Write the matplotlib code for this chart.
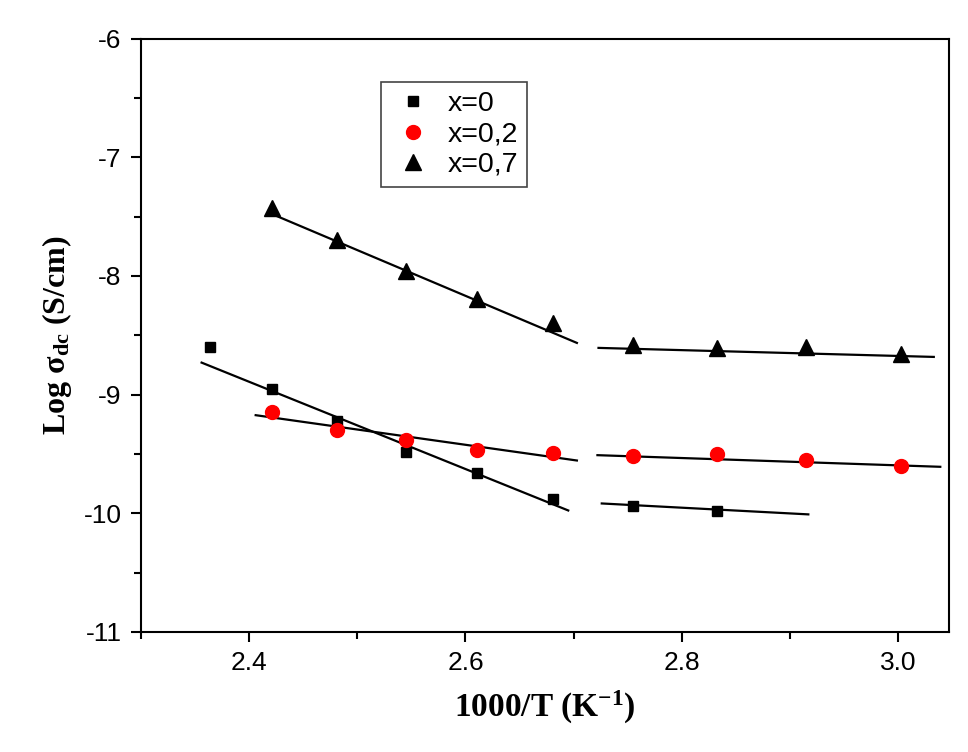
import matplotlib
matplotlib.use("Agg")
import matplotlib.pyplot as plt
from matplotlib.ticker import MultipleLocator, FormatStrFormatter

plt.rcParams["font.family"] = ["Liberation Sans", "DejaVu Sans"]
plt.rcParams["font.size"] = 17
plt.rcParams["mathtext.fontset"] = "custom"
plt.rcParams["mathtext.rm"] = "Liberation Serif"
plt.rcParams["mathtext.bf"] = "Liberation Serif:bold"
plt.rcParams["mathtext.it"] = "Liberation Serif:italic"

# ---- data (1000/T in K^-1, Log sigma_dc in S/cm) ----
x0 = [2.364, 2.421, 2.481, 2.545, 2.611, 2.681, 2.755, 2.833]
y0 = [-8.60, -8.95, -9.22, -9.48, -9.66, -9.88, -9.94, -9.98]

x2 = [2.421, 2.481, 2.545, 2.611, 2.681, 2.755, 2.833, 2.915, 3.003]
y2 = [-9.15, -9.30, -9.38, -9.47, -9.49, -9.52, -9.50, -9.55, -9.60]

x7 = [2.421, 2.481, 2.545, 2.611, 2.681, 2.755, 2.833, 2.915, 3.003]
y7 = [-7.43, -7.70, -7.955, -8.19, -8.40, -8.58, -8.61, -8.60, -8.66]

# linear-fit segments ([start x, end x], [start y, end y])
fit0_a = ([2.356, 2.695], [-8.73, -9.976])
fit0_b = ([2.726, 2.917], [-9.917, -10.009])
fit2_a = ([2.406, 2.703], [-9.173, -9.555])
fit2_b = ([2.722, 3.039], [-9.51, -9.608])
fit7_a = ([2.419, 2.703], [-7.47, -8.564])
fit7_b = ([2.723, 3.033], [-8.606, -8.682])

labels = ["x=0", "x=0,2", "x=0,7"]

fig = plt.figure(figsize=(9.68, 7.52), dpi=100)
ax = fig.add_axes([0.1457, 0.1596, 0.8346, 0.789])

for fx, fy in [fit0_a, fit0_b, fit2_a, fit2_b, fit7_a, fit7_b]:
    ax.plot(fx, fy, color="black", lw=1.6, zorder=2)

ax.plot(x0, y0, ls="none", marker="s", ms=7, color="black", label=labels[0], zorder=3)
ax.plot(x2, y2, ls="none", marker="o", ms=10, color="#ff0000", label=labels[1], zorder=3)
ax.plot(x7, y7, ls="none", marker="^", ms=11, color="black", label=labels[2], zorder=3)

ax.set_xlim(2.3, 3.047)
ax.set_ylim(-11, -6)
ax.xaxis.set_major_locator(MultipleLocator(0.2))
ax.xaxis.set_minor_locator(MultipleLocator(0.1))
ax.yaxis.set_major_locator(MultipleLocator(1))
ax.yaxis.set_minor_locator(MultipleLocator(0.5))
ax.xaxis.set_major_formatter(FormatStrFormatter("%.1f"))
ax.yaxis.set_major_formatter(FormatStrFormatter("%d"))

ax.tick_params(which="both", direction="out", top=False, right=False, width=1.5)
ax.tick_params(which="major", length=7, labelsize=19, pad=7)
ax.tick_params(which="minor", length=5)
for s in ax.spines.values():
    s.set_linewidth(1.5)

ax.set_xlabel(r"1000/T (K$^{\mathbf{-1}}$)", fontfamily="Liberation Serif",
              fontweight="bold", fontsize=24, labelpad=10)
ax.set_ylabel(r"Log $\mathbf{\sigma}_{\mathbf{dc}}$ (S/cm)", fontfamily="Liberation Serif",
              fontweight="bold", fontsize=23, labelpad=7)

leg = ax.legend(loc="upper left", bbox_to_anchor=(0.297, 0.927), borderaxespad=0,
                fancybox=False, framealpha=1, edgecolor="#444444",
                prop={"family": "Liberation Sans", "size": 20.5},
                handletextpad=0.4, borderpad=0.33, labelspacing=0.15, handlelength=1.6)
leg.get_frame().set_linewidth(1.2)

fig.savefig("out.png", dpi=100)
